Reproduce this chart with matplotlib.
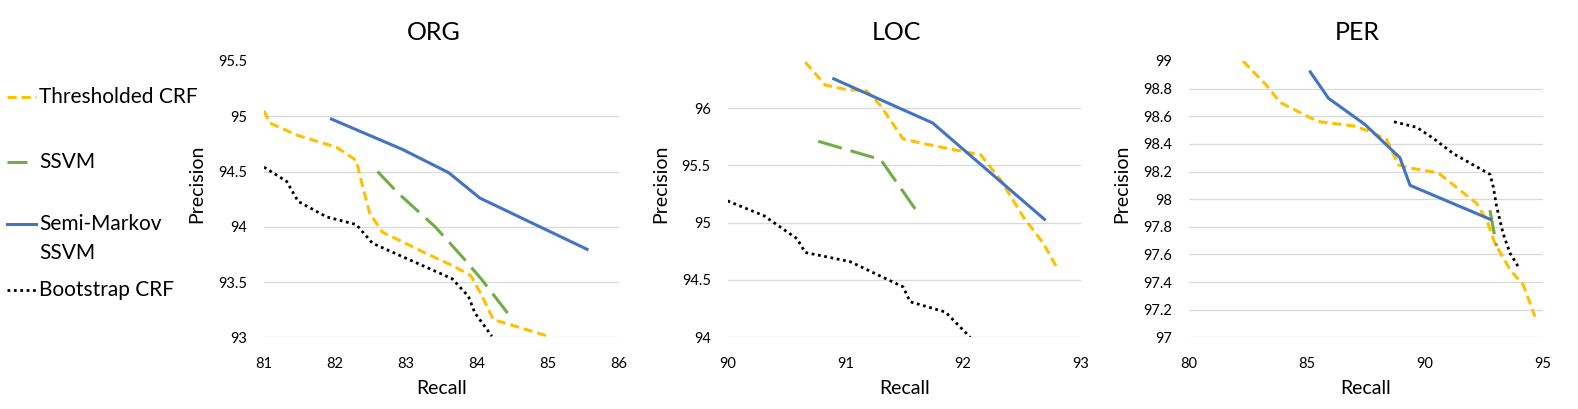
import numpy as np
import matplotlib.pyplot as plt
from matplotlib.lines import Line2D

plt.rcParams['font.family'] = ['Lato', 'DejaVu Sans']

# ---- ORG ----
org_thr_r = [81.0, 81.08, 81.46, 82.02, 82.30, 82.38, 82.49, 82.67, 82.90, 83.28, 83.65, 83.91, 84.05, 84.23, 84.49, 85.0]
org_thr_p = [95.05, 94.94, 94.83, 94.72, 94.60, 94.39, 94.12, 93.95, 93.88, 93.76, 93.65, 93.56, 93.40, 93.16, 93.11, 93.01]
org_ssvm_r = [82.6, 82.88, 83.41, 83.79, 84.07, 84.49]
org_ssvm_p = [94.50, 94.31, 94.0, 93.73, 93.52, 93.17]
org_semi_r = [81.93, 82.95, 83.60, 84.04, 85.57]
org_semi_p = [94.98, 94.70, 94.49, 94.26, 93.79]
org_boot_r = [81.0, 81.32, 81.48, 81.88, 82.30, 82.53, 83.65, 83.88, 83.97, 84.21]
org_boot_p = [94.54, 94.41, 94.23, 94.09, 94.02, 93.85, 93.53, 93.37, 93.22, 93.01]

# ---- LOC ----
loc_thr_r = [90.66, 90.83, 91.01, 91.18, 91.30, 91.49, 91.66, 92.15, 92.32, 92.51, 92.68, 92.80]
loc_thr_p = [96.40, 96.20, 96.16, 96.15, 96.02, 95.73, 95.69, 95.59, 95.37, 95.05, 94.82, 94.60]
loc_ssvm_r = [90.77, 91.30, 91.62]
loc_ssvm_p = [95.71, 95.55, 95.08]
loc_semi_r = [90.89, 91.74, 92.70]
loc_semi_p = [96.26, 95.87, 95.02]
loc_boot_r = [90.0, 90.31, 90.59, 90.66, 91.04, 91.49, 91.55, 91.85, 92.06]
loc_boot_p = [95.19, 95.06, 94.86, 94.74, 94.66, 94.44, 94.31, 94.22, 94.0]

# ---- PER ----
per_thr_r = [82.29, 83.31, 83.87, 85.14, 85.56, 86.98, 87.68, 88.39, 88.88, 89.24, 90.58, 92.20, 92.63, 92.98, 93.62, 94.18, 94.68]
per_thr_p = [99.00, 98.82, 98.70, 98.59, 98.56, 98.53, 98.49, 98.43, 98.25, 98.23, 98.19, 97.97, 97.85, 97.68, 97.49, 97.38, 97.15]
per_ssvm_r = [92.77, 93.05]
per_ssvm_p = [97.92, 97.66]
per_semi_r = [85.11, 85.92, 87.47, 88.95, 89.38, 92.84]
per_semi_p = [98.93, 98.73, 98.54, 98.30, 98.10, 97.85]
per_boot_r = [88.70, 89.66, 90.37, 91.21, 92.77, 92.91, 93.05, 93.33, 93.62, 94.01]
per_boot_p = [98.56, 98.52, 98.44, 98.33, 98.18, 98.09, 97.95, 97.75, 97.61, 97.50]

labels = ["Thresholded CRF", "SSVM", "Semi-Markov\nSSVM", "Bootstrap CRF"]
styles = [
    dict(color="#FFC000", lw=2.2, linestyle=(0, (3, 1.6))),
    dict(color="#70AD47", lw=2.2, linestyle=(0, (8, 3))),
    dict(color="#4472C4", lw=2.2, linestyle="-"),
    dict(color="black", lw=2.0, linestyle=(0, (1, 1.3))),
]

panels = [
    ("ORG", [(org_thr_r, org_thr_p), (org_ssvm_r, org_ssvm_p), (org_semi_r, org_semi_p), (org_boot_r, org_boot_p)],
     (81, 86), np.arange(81, 86.1, 1), (93, 95.5), np.arange(93, 95.51, 0.5), 264, 619),
    ("LOC", [(loc_thr_r, loc_thr_p), (loc_ssvm_r, loc_ssvm_p), (loc_semi_r, loc_semi_p), (loc_boot_r, loc_boot_p)],
     (90, 93), np.arange(90, 93.1, 1), (94, 96.41), np.arange(94, 96.01, 0.5), 727.5, 1081),
    ("PER", [(per_thr_r, per_thr_p), (per_ssvm_r, per_ssvm_p), (per_semi_r, per_semi_p), (per_boot_r, per_boot_p)],
     (80, 95), np.arange(80, 95.1, 5), (97, 99), np.arange(97, 99.01, 0.2), 1189, 1542.5),
]

W, H = 1578, 409
fig = plt.figure(figsize=(W / 100, H / 100), dpi=100)
top_px, bot_px = 61, 337.3

for name, series, xlim, xt, ylim, yt, x0, x1 in panels:
    ax = fig.add_axes([x0 / W, (H - bot_px) / H, (x1 - x0) / W, (bot_px - top_px) / H])
    for (r, p), st in zip(series, styles):
        ax.plot(r, p, solid_capstyle="butt", dash_capstyle="butt", **st)
    ax.set_xlim(*xlim)
    ax.set_ylim(*ylim)
    ax.set_xticks(xt)
    ax.set_yticks(yt)
    ax.set_xticklabels([f"{v:g}" for v in xt])
    ax.set_yticklabels([f"{round(v, 1):g}" for v in yt])
    ax.tick_params(length=0, labelsize=10.5, pad=12)
    ax.tick_params(axis="x", pad=14)
    for s in ax.spines.values():
        s.set_visible(False)
    ax.grid(axis="y", color="#D9D9D9", lw=0.9)
    ax.set_axisbelow(True)
    gl = ax.yaxis.get_gridlines()
    if abs(yt[-1] - ylim[1]) < 1e-6:
        gl[-1].set_visible(False)
    ax.set_xlabel("Recall", fontsize=14)
    ax.xaxis.set_label_coords(0.5, -0.185)
    ax.xaxis.label.set_va("center")
    ax.set_ylabel("Precision", fontsize=14)
    ax.yaxis.set_label_coords(-0.19, 0.557)
    ax.yaxis.label.set_va("center")
    ax.set_title(name, fontsize=18, x=0.477, y=1.0, pad=15)

# legend on the left, line at the first text line of each entry
leg_y = [96.7, 161.7, 224, 290]
for lab, st, y in zip(labels, styles, leg_y):
    xe = 27 if lab == "SSVM" else 36
    fig.add_artist(Line2D([7 / W, xe / W], [1 - y / H, 1 - y / H], transform=fig.transFigure, **st))
    for i, part in enumerate(lab.split("\n")):
        fig.text(39 / W, 1 - (y + 29 * i) / H, part, fontsize=15, va="center")

fig.savefig("out.png", dpi=100)
